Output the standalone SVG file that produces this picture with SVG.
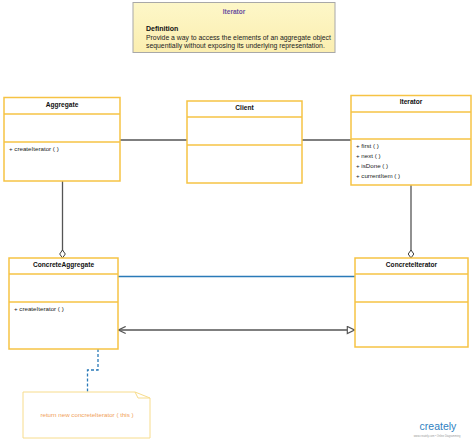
<svg xmlns="http://www.w3.org/2000/svg" width="474" height="441" viewBox="0 0 474 441">
<defs>
<linearGradient id="defg" x1="0" y1="0" x2="0" y2="1"><stop offset="0" stop-color="#fdf7c8"/><stop offset="1" stop-color="#fbeeb0"/></linearGradient>
<marker id="dia" viewBox="0 0 10 8" refX="10" refY="4" markerWidth="8" markerHeight="6.4" markerUnits="userSpaceOnUse" orient="auto"><path d="M0,4 L5,0.5 L10,4 L5,7.5 Z" fill="#fff" stroke="#333" stroke-width="1.2"/></marker>
<marker id="open" viewBox="0 0 10 10" refX="9" refY="5" markerWidth="9" markerHeight="9" markerUnits="userSpaceOnUse" orient="auto"><path d="M1,1 L9,5 L1,9" fill="none" stroke="#555" stroke-width="1.3"/></marker>
<marker id="tri" viewBox="0 0 10 10" refX="9" refY="5" markerWidth="9" markerHeight="9" markerUnits="userSpaceOnUse" orient="auto"><path d="M1,1 L9,5 L1,9 Z" fill="#fff" stroke="#555" stroke-width="1.3"/></marker>
</defs>
<style>
.box{fill:#fff;stroke:#f6c344;stroke-width:1.5}
.div{stroke:#f6c344;stroke-width:1.5}
.t{font-family:"Liberation Sans",Arial,sans-serif;font-size:6.6px;font-weight:bold;fill:#111;text-anchor:middle}
.m{font-family:"Liberation Sans",Arial,sans-serif;font-size:6.2px;fill:#222}
.ln{fill:none;stroke:#555;stroke-width:1.3}
</style>
<rect width="474" height="441" fill="#fff"/>
<g id="definition">
<rect x="133" y="2.5" width="202" height="50" fill="url(#defg)" stroke="#a8a8a8" stroke-width="1"/>
<text x="234" y="13.5" font-family="Liberation Sans,Arial,sans-serif" font-size="6.5" font-weight="bold" fill="#6a4fa0" text-anchor="middle">Iterator</text>
<text x="146" y="31" font-family="Liberation Sans,Arial,sans-serif" font-size="7" font-weight="bold" fill="#111">Definition</text>
<text x="146" y="39.5" font-family="Liberation Sans,Arial,sans-serif" font-size="6.85" fill="#222">Provide a way to access the elements of an aggregate object</text>
<text x="146" y="48" font-family="Liberation Sans,Arial,sans-serif" font-size="6.85" fill="#222">sequentially without exposing its underlying representation.</text>
</g>
<g id="connectors">
<line class="ln" x1="120" y1="140" x2="187" y2="140"/>
<line class="ln" x1="302" y1="140" x2="351" y2="140"/>
<line class="ln" x1="62.5" y1="181" x2="62.5" y2="258" marker-end="url(#dia)"/>
<line class="ln" x1="411" y1="185" x2="411" y2="258" marker-end="url(#dia)"/>
<line x1="118" y1="276.5" x2="355" y2="276.5" stroke="#2a7ab8" stroke-width="1.3"/>
<line class="ln" x1="236" y1="330" x2="118.5" y2="330" marker-end="url(#open)"/>
<line class="ln" x1="236" y1="330" x2="354.5" y2="330" marker-end="url(#tri)"/>
<path d="M98,349 V370 H87.5 V392" fill="none" stroke="#2a7ab8" stroke-width="1.3" stroke-dasharray="3,2"/>
</g>
<g id="aggregate">
<rect class="box" x="4" y="97.5" width="116" height="83.5"/>
<line class="div" x1="4" y1="114" x2="120" y2="114"/>
<line class="div" x1="4" y1="142" x2="120" y2="142"/>
<text class="t" x="62" y="106.5">Aggregate</text>
<text class="m" x="9" y="151">+ createIterator ( )</text>
</g>
<g id="client">
<rect class="box" x="187" y="101" width="115" height="82"/>
<line class="div" x1="187" y1="117" x2="302" y2="117"/>
<line class="div" x1="187" y1="145" x2="302" y2="145"/>
<text class="t" x="244.5" y="109.5">Client</text>
</g>
<g id="iterator">
<rect class="box" x="351" y="95.5" width="120" height="89.5"/>
<line class="div" x1="351" y1="112" x2="471" y2="112"/>
<line class="div" x1="351" y1="139" x2="471" y2="139"/>
<text class="t" x="411" y="104">Iterator</text>
<text class="m" x="356" y="148">+ first ( )</text>
<text class="m" x="356" y="158">+ next ( )</text>
<text class="m" x="356" y="168">+ isDone ( )</text>
<text class="m" x="356" y="177.5">+ currentItem ( )</text>
</g>
<g id="concreteAggregate">
<rect class="box" x="9" y="258" width="109" height="91"/>
<line class="div" x1="9" y1="274" x2="118" y2="274"/>
<line class="div" x1="9" y1="302" x2="118" y2="302"/>
<text class="t" x="63.5" y="267">ConcreteAggregate</text>
<text class="m" x="14" y="311">+ createIterator ( )</text>
</g>
<g id="concreteIterator">
<rect class="box" x="355" y="258" width="113" height="89"/>
<line class="div" x1="355" y1="274" x2="468" y2="274"/>
<line class="div" x1="355" y1="302" x2="468" y2="302"/>
<text class="t" x="411.5" y="267">ConcreteIterator</text>
</g>
<g id="note">
<path d="M23,392 H135 L150,398 V438 H23 Z" fill="#fff" stroke="#f7dc8c" stroke-width="1"/>
<path d="M135,392 L138,398 H150" fill="none" stroke="#f7dc8c" stroke-width="1"/>
<text x="87" y="417" font-family="Liberation Sans,Arial,sans-serif" font-size="6.2" fill="#f0a05a" text-anchor="middle">return new concreteIterator ( this )</text>
</g>
<g id="logo">
<text x="438" y="430" font-family="Liberation Sans,Arial,sans-serif" font-size="10.5" fill="#2f7fc1" text-anchor="middle">creately</text>
<text x="437" y="436.5" font-family="Liberation Sans,Arial,sans-serif" font-size="2.6" fill="#999" text-anchor="middle">www.creately.com • Online Diagramming</text>
</g>
</svg>
